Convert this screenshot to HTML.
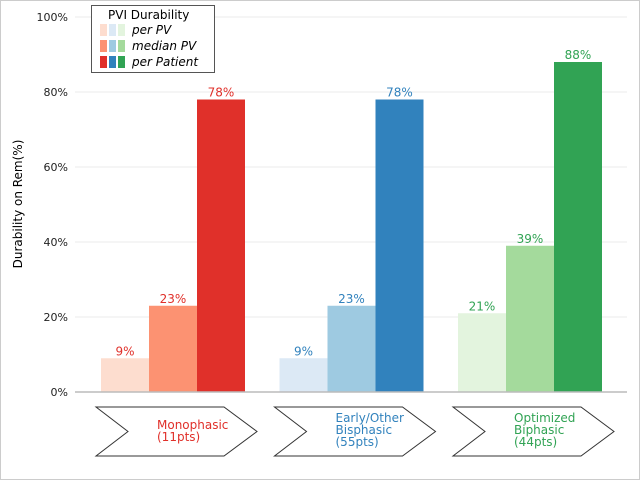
<!DOCTYPE html>
<html><head><meta charset="utf-8"><style>
body{margin:0;background:#fff}
svg{display:block;font-family:"DejaVu Sans","Liberation Sans",sans-serif}
</style></head><body>
<svg id="c" width="640" height="480" viewBox="0 0 640 480">
<rect x="0.5" y="0.5" width="639" height="479" fill="#fff" stroke="#ccc"/>
<g id="grid"></g>
<g id="bars"></g>
<line x1="75" x2="627" y1="392" y2="392" stroke="#bbb" stroke-width="1.5"/>
<text transform="translate(22,204) rotate(-90)" text-anchor="middle" font-size="12" fill="#000">Durability on Rem(%)</text>
<g id="cats"></g>
<g>
<rect x="91.5" y="5.5" width="123" height="67" fill="#fff" stroke="#555"/>
<text x="108" y="19" font-size="12">PVI Durability</text>
<g id="leg"></g>
</g>
</svg>
<script>
const categories=["Monophasic","Early/Other Bisphasic","Optimized Biphasic"];
const catLines=[["Monophasic","(11pts)"],["Early/Other","Bisphasic","(55pts)"],["Optimized","Biphasic","(44pts)"]];
const seriesNames=["per PV","median PV","per Patient"];
const perPV=[9,9,21];
const medianPV=[23,23,39];
const perPatient=[78,78,88];
const yTicks=[0,20,40,60,80,100];
const palette=[["#fdddcf","#fc9272","#e0302a"],["#dce9f5","#9ecae1","#3182bd"],["#e3f4de","#a4da9c","#31a354"]];
const textCol=["#e0302a","#3182bd","#31a354"];
const NS="http://www.w3.org/2000/svg";
function el(t,a,p){const e=document.createElementNS(NS,t);for(const k in a)e.setAttribute(k,a[k]);p.appendChild(e);return e;}
const y=v=>392-v*3.75;
const gx=i=>101+i*178.5;
const bw=48;
const grid=document.getElementById('grid');
yTicks.forEach(t=>{
 if(t>0){const l=el('line',{x1:75,x2:627,y1:y(t),y2:y(t),stroke:'#ebebeb','stroke-width':1},grid);
 
 }
 const tx=el('text',{x:68,y:y(t)+4,'text-anchor':'end','font-size':11,fill:'#222'},grid);
 tx.textContent=t+'%';
 
 
});
const series=[perPV,medianPV,perPatient];
const bars=document.getElementById('bars');
categories.forEach((c,i)=>{
 series.forEach((s,j)=>{
  const x=gx(i)+j*bw;
  const r=el('rect',{x:x,y:y(s[i]),width:bw,height:392-y(s[i]),fill:palette[i][j]},bars);
  
  
  const t=el('text',{x:x+bw/2,y:y(s[i])-3,'text-anchor':'middle','font-size':12,fill:textCol[i]},bars);
  t.textContent=s[i]+'%';
  
  
 });
});
const cats=document.getElementById('cats');
categories.forEach((c,i)=>{
 const x0=gx(i)-5;
 const p=el('polygon',{points:`${x0},407 ${x0+128},407 ${x0+161},431.5 ${x0+128},456 ${x0},456 ${x0+32},431.5`,fill:'#fff',stroke:'#333','stroke-width':1},cats);
 
 
 const lines=catLines[i];
 const startY=lines.length==2?429:422;
 const t=el('text',{x:x0+61,y:startY,'font-size':12,fill:textCol[i]},cats);
 lines.forEach((ln,k)=>{const ts=el('tspan',{x:x0+61,y:startY+k*12},t);ts.textContent=ln;});
 
 
});
const leg=document.getElementById('leg');
seriesNames.forEach((n,j)=>{
 for(let i=0;i<3;i++){
  const r=el('rect',{x:100+i*9,y:24+j*16,width:7,height:12,fill:palette[i][j]},leg);
  
  
 }
 const t=el('text',{x:132,y:34+j*16,'font-size':12,'font-style':'italic'},leg);
 t.textContent=n;
 
 
});
</script>
</body></html>
